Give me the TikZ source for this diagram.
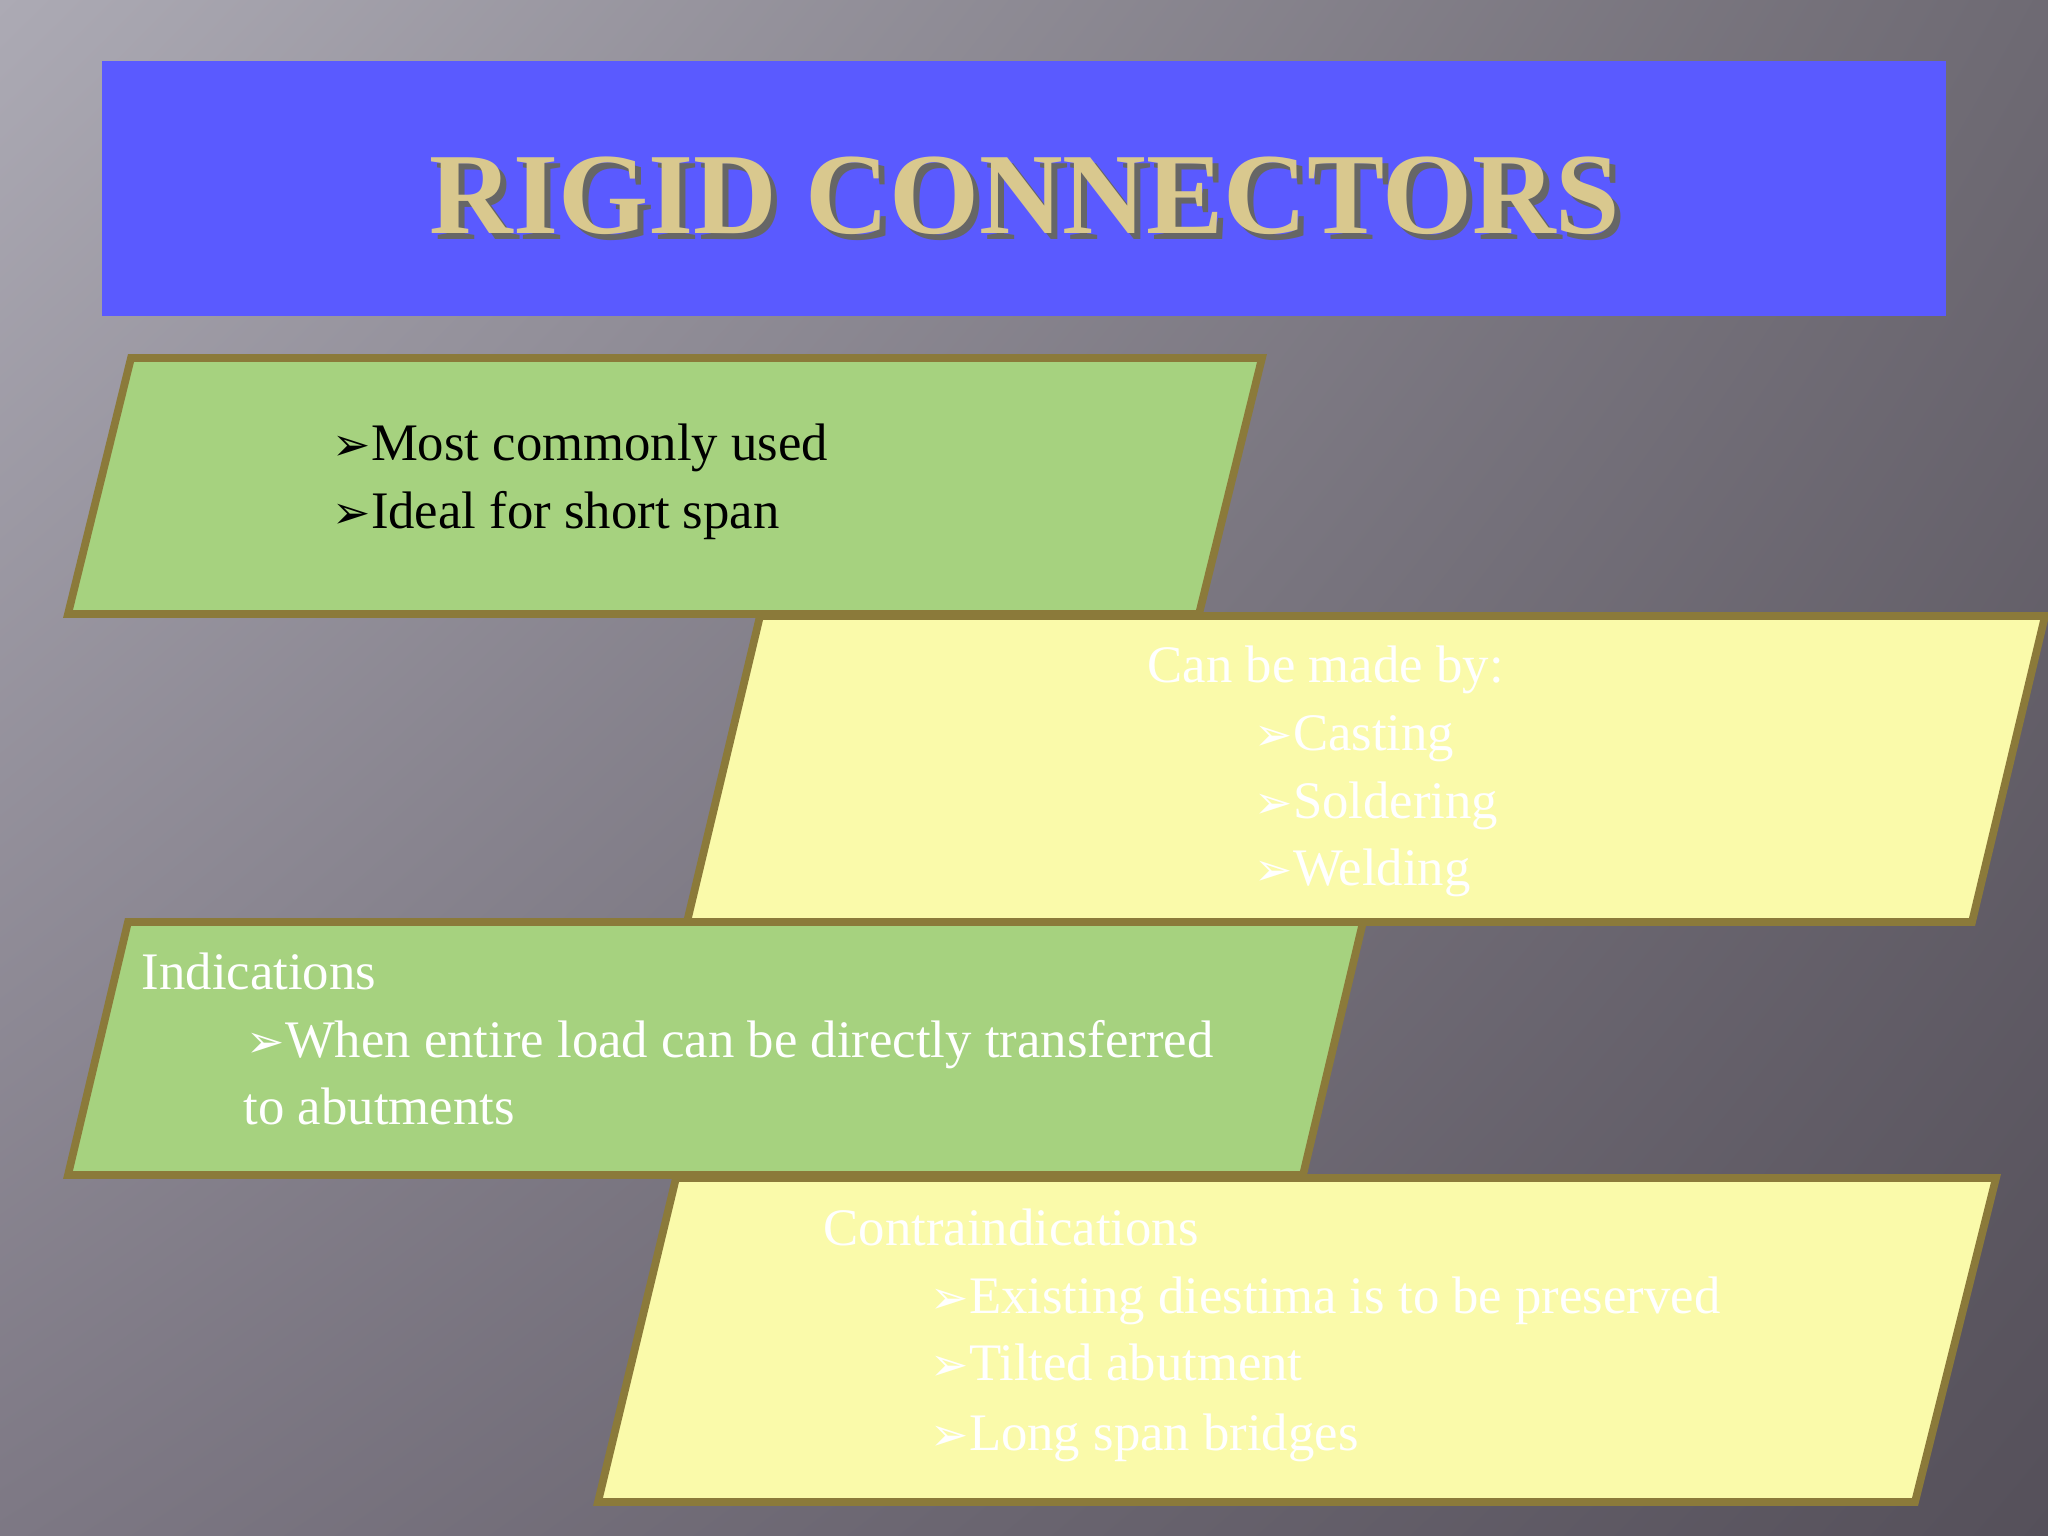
\documentclass[tikz,border=0pt]{standalone}
\usepackage{fontspec}
\setmainfont{Liberation Serif}
\newfontfamily\arr{DejaVu Sans}
\usetikzlibrary{shadings}
\definecolor{ttl}{HTML}{5A5AFF}
\definecolor{grn}{HTML}{A6D27F}
\definecolor{ylw}{HTML}{FAFAAA}
\definecolor{brd}{HTML}{8B7A3A}
\definecolor{gold}{HTML}{D9C88E}
\definecolor{bgul}{HTML}{ACAAB4}
\definecolor{bgur}{HTML}{6E6A73}
\definecolor{bgll}{HTML}{7D7884}
\definecolor{bglr}{HTML}{55505A}
\newcommand{\ar}{{\arr\fontsize{13}{13}\selectfont ➢}}
\tikzset{
  pg/.style={draw=brd, line width=2.2pt, line join=miter},
  txt/.style={anchor=base west, inner sep=0pt, font=\fontsize{15}{18}\selectfont},
}
\begin{document}
\begin{tikzpicture}[x=0.01cm,y=-0.01cm]
\useasboundingbox (0,0) rectangle (2048,1536);
\shade[upper left=bgul, upper right=bgur, lower left=bgll, lower right=bglr]
  (0,0) rectangle (2048,1536);
\fill[ttl] (102,61) rectangle (1946,316);
\node (shadow) at (1031,202) {\resizebox{11.9cm}{!}{\fontsize{36}{36}\selectfont\bfseries\color{black!60}RIGID CONNECTORS}};
\node (title) at (1025,196) {\resizebox{11.9cm}{!}{\fontsize{36}{36}\selectfont\bfseries\color{gold}RIGID CONNECTORS}};
\filldraw[pg, fill=grn] (131,358) -- (1262,358) -- (1199,614) -- (68,614) -- cycle;
\filldraw[pg, fill=ylw] (760,616) -- (2045,616) -- (1972,922) -- (687,922) -- cycle;
\filldraw[pg, fill=grn] (128,922) -- (1363,922) -- (1303,1175) -- (68,1175) -- cycle;
\filldraw[pg, fill=ylw] (676,1178) -- (1996,1178) -- (1915,1502) -- (598,1502) -- cycle;
\node[txt] (a1) at (332,460) {\ar Most commonly used};
\node[txt] (a2) at (332,528) {\ar Ideal for short span};
\node[txt,white] (b0) at (1147,682) {Can be made by:};
\node[txt,white] (b1) at (1254,750) {\ar Casting};
\node[txt,white] (b2) at (1254,818) {\ar Soldering};
\node[txt,white] (b3) at (1254,885) {\ar Welding};
\node[txt,white] (c0) at (141,989) {Indications};
\node[txt,white] (c1) at (246,1057) {\ar When entire load can be directly transferred};
\node[txt,white] (c2) at (243,1124) {to abutments};
\node[txt,white] (d0) at (823,1245) {Contraindications};
\node[txt,white] (d1) at (930,1313) {\ar Existing diestima is to be preserved};
\node[txt,white] (d2) at (930,1380) {\ar Tilted abutment};
\node[txt,white] (d3) at (930,1450) {\ar Long span bridges};
\end{tikzpicture}
\end{document}
